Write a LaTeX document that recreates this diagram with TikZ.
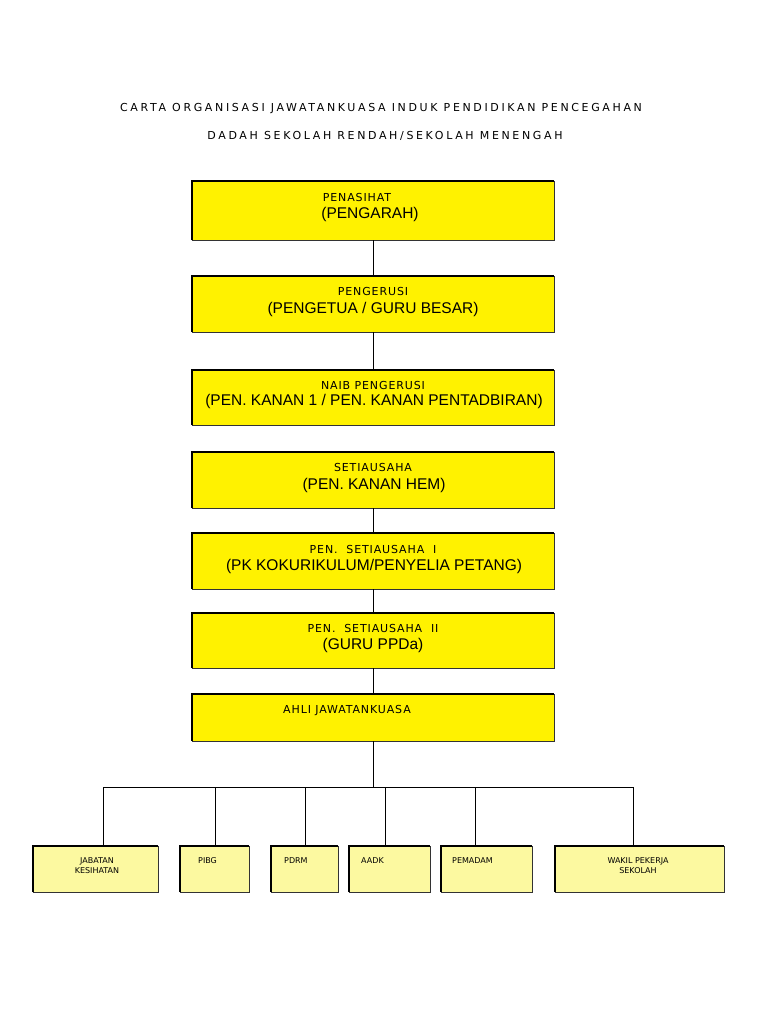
\documentclass[tikz,border=0pt]{standalone}
\usepackage{fontspec}
\setmainfont{DejaVu Sans}
\newfontfamily\arialf{Liberation Sans}
\newfontfamily\spf[LetterSpace=8]{DejaVu Sans}
\newfontfamily\tspf[LetterSpace=24]{DejaVu Sans}
\begin{document}
\begin{tikzpicture}[x=1pt,y=-1pt,
  top/.style={fill=yellow, draw=black!80, line width=0.8pt},
  bot/.style={fill={rgb,255:red,252;green,249;blue,160}, draw=black!80, line width=0.8pt},
  sm/.style={font=\spf\fontsize{11}{12}\selectfont, inner sep=0pt},
  bg/.style={font=\arialf\fontsize{15.5}{17}\selectfont, inner sep=0pt},
  tiny/.style={font=\fontsize{8}{10}\selectfont, inner sep=0pt, align=center},
  ln/.style={draw=black, line width=0.7pt}]
\useasboundingbox (0,0) rectangle (768,1024);
\node[font=\tspf\fontsize{11}{12}\selectfont] (t1) at (381,109) {CARTA ORGANISASI JAWATANKUASA INDUK PENDIDIKAN PENCEGAHAN};
\node[font=\tspf\fontsize{11}{12}\selectfont] (t2) at (385,136) {DADAH SEKOLAH RENDAH/SEKOLAH MENENGAH};
% top boxes
\foreach \n/\a/\b in {b1/181/240,b2/276/332,b3/370/425,b4/452/508,b5/533/589,b6/613/668,b7/694/741}{
  \draw[top] (192,\a) rectangle (554,\b);
  \draw[line width=1.8pt] (192,\b) -- (192,\a) -- (554,\a);
  \coordinate (\n t) at (373,\a); \coordinate (\n b) at (373,\b);
}
\node[sm] (l1a) at (357,197) {PENASIHAT};
\node[bg] (l1b) at (370,214) {(PENGARAH)};
\node[sm] (l2a) at (373,291) {PENGERUSI};
\node[bg] (l2b) at (373,309) {(PENGETUA / GURU BESAR)};
\node[sm] (l3a) at (373,385) {NAIB PENGERUSI};
\node[bg] (l3b) at (374,401) {(PEN. KANAN 1 / PEN. KANAN PENTADBIRAN)};
\node[sm] (l4a) at (373,467) {SETIAUSAHA};
\node[bg] (l4b) at (374,485) {(PEN. KANAN HEM)};
\node[sm] (l5a) at (373,549) {PEN.\ \ SETIAUSAHA\ \ I};
\node[bg] (l5b) at (374,566) {(PK KOKURIKULUM/PENYELIA PETANG)};
\node[sm] (l6a) at (373,628) {PEN.\ \ SETIAUSAHA\ \ II};
\node[bg] (l6b) at (373,645) {(GURU PPDa)};
\node[sm, anchor=west] (l7) at (283,711) {AHLI JAWATANKUASA};
\draw[ln] (b1b) -- (b2t);
\draw[ln] (b2b) -- (b3t);
\draw[ln] (b4b) -- (b5t);
\draw[ln] (b5b) -- (b6t);
\draw[ln] (b6b) -- (b7t);
\coordinate (bus) at (373,787);
\draw[ln] (b7b) -- (bus);
\draw[ln] (103,787) -- (633,787);
% bottom boxes
\foreach \n/\xa/\xb/\d in {c1/33/158/103,c2/180/249/215,c3/271/338/305,c4/349/430/385,c5/441/532/475,c6/555/724/633}{
  \draw[bot] (\xa,846) rectangle (\xb,892);
  \draw[line width=1.8pt] (\xa,892) -- (\xa,846) -- (\xb,846);
  \coordinate (\n t) at (\d,846); \coordinate (\n u) at (\d,787);
  \draw[ln] (\n u) -- (\n t);
}
\node[tiny] (m1) at (97,866) {JABATAN\\KESIHATAN};
\node[tiny, anchor=west] (m2) at (198,861) {PIBG};
\node[tiny, anchor=west] (m3) at (284,861) {PDRM};
\node[tiny, anchor=west] (m4) at (361,861) {AADK};
\node[tiny, anchor=west] (m5) at (452,861) {PEMADAM};
\node[tiny] (m6) at (638,866) {WAKIL PEKERJA\\SEKOLAH};
\end{tikzpicture}
\end{document}
